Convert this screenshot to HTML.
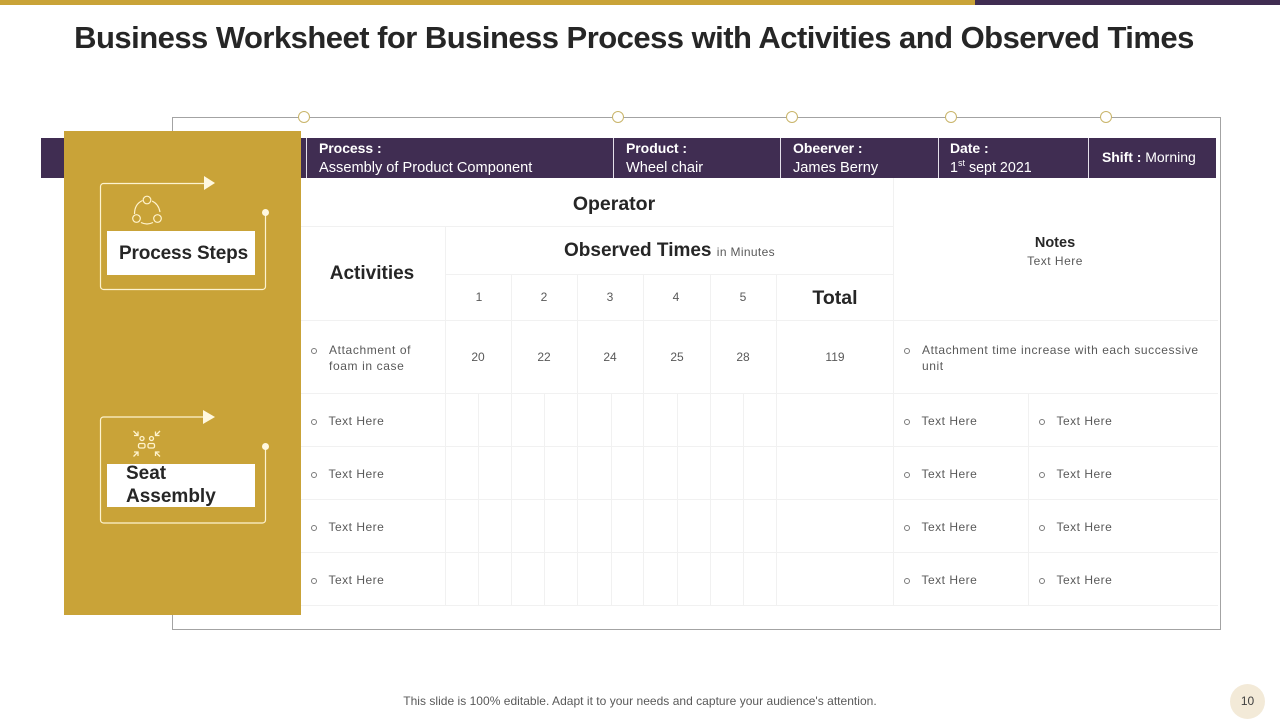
<!DOCTYPE html>
<html lang="en">
<head>
<meta charset="utf-8">
<title>Business Worksheet</title>
<style>
html,body{margin:0;padding:0;background:#fff}
#slide{position:relative;width:1280px;height:720px;overflow:hidden;background:#fff;font-family:"Liberation Sans",sans-serif;color:#262626}
#slide div,#slide svg{position:absolute}
.t{white-space:nowrap;line-height:16px}
.c{text-align:center}
.b{font-weight:bold}
.h{background:#f1f1f1;height:1px}
.v{background:#f1f1f1;width:1px}
.w{color:#fff;font-size:14.6px;line-height:18px}
.w b{font-size:14px;letter-spacing:-.05px}
.u{position:relative;top:-1px}
.d{background:#e4e0ea;width:1px;top:138px;height:40px}
.g{color:#595959;font-size:12px;letter-spacing:.5px}
.n{color:#595959;font-size:12px;width:60px;text-align:center}
.o{width:4px;height:4px;border:1px solid #7a7a7a;border-radius:50%}
.p{width:10px;height:10px;border:1px solid #c9b56a;border-radius:50%;background:#fff;top:111px}
sup{font-size:9px;line-height:0}
</style>
</head>
<body>
<div id="slide">
<div style="left:0;top:0;width:975px;height:5px;background:#c9a338"></div>
<div style="left:975px;top:0;width:305px;height:5px;background:#402d52"></div>
<div class="t b" style="left:0;width:1268px;text-align:center;top:18px;font-size:31px;line-height:40px;letter-spacing:-.53px">Business Worksheet for Business Process with Activities and Observed Times</div>

<div style="left:172px;top:117px;width:1047px;height:511px;border:1px solid #a3a3a3"></div>
<div class="p" style="left:298px"></div>
<div class="p" style="left:612px"></div>
<div class="p" style="left:786px"></div>
<div class="p" style="left:945px"></div>
<div class="p" style="left:1100px"></div>

<div style="left:301px;top:178px;width:917px;height:428px;background:#fff"></div>
<div style="left:41px;top:138px;width:1175px;height:40px;background:#402d52"></div>
<div class="d" style="left:306px"></div>
<div class="d" style="left:613px"></div>
<div class="d" style="left:780px"></div>
<div class="d" style="left:938px"></div>
<div class="d" style="left:1088px"></div>
<div class="t w" style="left:319px;top:140px"><b class="u">Process :</b><br>Assembly of Product Component</div>
<div class="t w" style="left:626px;top:140px"><b class="u">Product :</b><br>Wheel chair</div>
<div class="t w" style="left:793px;top:140px"><b class="u">Obeerver :</b><br>James Berny</div>
<div class="t w" style="left:950px;top:140px"><b class="u">Date :</b><br><span style="font-size:14.3px">1<sup>st</sup> sept 2021</span></div>
<div class="t w" style="left:1102px;top:148px;font-size:14px"><b>Shift :</b> Morning</div>

<!-- horizontal rules -->
<div class="h" style="left:301px;top:226px;width:592px"></div>
<div class="h" style="left:445px;top:274px;width:448px"></div>
<div class="h" style="left:301px;top:320px;width:917px"></div>
<div class="h" style="left:301px;top:393px;width:917px"></div>
<div class="h" style="left:301px;top:446px;width:917px"></div>
<div class="h" style="left:301px;top:499px;width:917px"></div>
<div class="h" style="left:301px;top:552px;width:917px"></div>
<div class="h" style="left:301px;top:605px;width:917px"></div>
<!-- vertical rules -->
<div class="v" style="left:445px;top:226px;height:379px"></div>
<div class="v" style="left:511px;top:274px;height:331px"></div>
<div class="v" style="left:577px;top:274px;height:331px"></div>
<div class="v" style="left:643px;top:274px;height:331px"></div>
<div class="v" style="left:710px;top:274px;height:331px"></div>
<div class="v" style="left:776px;top:274px;height:331px"></div>
<div class="v" style="left:893px;top:178px;height:427px"></div>
<div class="v" style="left:478px;top:393px;height:212px"></div>
<div class="v" style="left:544px;top:393px;height:212px"></div>
<div class="v" style="left:611px;top:393px;height:212px"></div>
<div class="v" style="left:677px;top:393px;height:212px"></div>
<div class="v" style="left:743px;top:393px;height:212px"></div>
<div class="v" style="left:1028px;top:393px;height:212px"></div>

<!-- table headings -->
<div class="t b c" style="left:514px;width:200px;top:196px;font-size:19.5px">Operator</div>
<div class="t b c" style="left:272px;width:200px;top:266px;font-size:19px">Activities</div>
<div class="t" style="left:564px;top:243px;font-size:19px"><b>Observed Times</b> <span style="font-size:12px;color:#595959;letter-spacing:.35px">in Minutes</span></div>
<div class="t b c" style="left:775px;width:120px;top:290px;font-size:19.5px">Total</div>
<div class="t c" style="left:955px;width:200px;top:235px;font-size:14.5px;font-weight:bold">Notes</div>
<div class="t c g" style="left:955px;width:200px;top:253px">Text Here</div>

<div class="t n" style="left:449px;top:289px">1</div>
<div class="t n" style="left:514px;top:289px">2</div>
<div class="t n" style="left:580px;top:289px">3</div>
<div class="t n" style="left:646px;top:289px">4</div>
<div class="t n" style="left:713px;top:289px">5</div>

<!-- first data row -->
<div class="o" style="left:311px;top:348px"></div>
<div class="t g" style="left:329px;top:342px;letter-spacing:.62px">Attachment of<br>foam in case</div>
<div class="t n" style="left:448px;top:349px">20</div>
<div class="t n" style="left:514px;top:349px">22</div>
<div class="t n" style="left:580px;top:349px">24</div>
<div class="t n" style="left:647px;top:349px">25</div>
<div class="t n" style="left:713px;top:349px">28</div>
<div class="t n" style="left:805px;top:349px">119</div>
<div class="o" style="left:904px;top:348px"></div>
<div class="t g" style="left:922px;top:342px;letter-spacing:.56px">Attachment time increase with each successive<br>unit</div>

<!-- rows 2-5 -->
<div class="o" style="left:311px;top:419px"></div>
<div class="t g" style="left:328.500px;top:413px">Text Here</div>
<div class="o" style="left:904px;top:419px"></div>
<div class="t g" style="left:921.500px;top:413px">Text Here</div>
<div class="o" style="left:1039px;top:419px"></div>
<div class="t g" style="left:1056.500px;top:413px">Text Here</div>

<div class="o" style="left:311px;top:472px"></div>
<div class="t g" style="left:328.500px;top:466px">Text Here</div>
<div class="o" style="left:904px;top:472px"></div>
<div class="t g" style="left:921.500px;top:466px">Text Here</div>
<div class="o" style="left:1039px;top:472px"></div>
<div class="t g" style="left:1056.500px;top:466px">Text Here</div>

<div class="o" style="left:311px;top:525px"></div>
<div class="t g" style="left:328.500px;top:519px">Text Here</div>
<div class="o" style="left:904px;top:525px"></div>
<div class="t g" style="left:921.500px;top:519px">Text Here</div>
<div class="o" style="left:1039px;top:525px"></div>
<div class="t g" style="left:1056.500px;top:519px">Text Here</div>

<div class="o" style="left:311px;top:578px"></div>
<div class="t g" style="left:328.500px;top:572px">Text Here</div>
<div class="o" style="left:904px;top:578px"></div>
<div class="t g" style="left:921.500px;top:572px">Text Here</div>
<div class="o" style="left:1039px;top:578px"></div>
<div class="t g" style="left:1056.500px;top:572px">Text Here</div>

<!-- gold panel -->
<div style="left:64px;top:131px;width:237px;height:484px;background:#c9a338"></div>

<svg style="left:0;top:0" width="1280" height="720" viewBox="0 0 1280 720" fill="none">
  <g stroke="#fdf3cf" stroke-width="1.2">
    <path d="M206 183.500H103.500a3 3 0 0 0-3 3V286.500a3 3 0 0 0 3 3H262.500a3 3 0 0 0 3-3V213"/>
  </g>
  <path d="M204 176L215 183L204 190Z" fill="#fff8e0"/>
  <circle cx="265.500" cy="212.500" r="3.500" fill="#fff8e0"/>
  <g stroke="#fff3cc" stroke-width="1.2">
    <circle cx="147" cy="200" r="3.800"/>
    <circle cx="136.500" cy="218.500" r="3.800"/>
    <circle cx="157.500" cy="218.500" r="3.800"/>
    <path d="M142.500 200.500C137 203 134.500 208 134.500 214"/>
    <path d="M152 201C156.500 203 159 206.500 160 212"/>
    <path d="M141 222.500C145 224.500 149 224.500 153 222.500"/>
  </g>
  <g stroke="#fdf3cf" stroke-width="1.2">
    <path d="M206 417H103.500a3 3 0 0 0-3 3V520a3 3 0 0 0 3 3H262.500a3 3 0 0 0 3-3V447"/>
  </g>
  <path d="M203 410L215 417L203 424Z" fill="#fff8e0"/>
  <circle cx="265.500" cy="446.500" r="3.500" fill="#fff8e0"/>
  <g stroke="#fff3cc" stroke-width="1.300">
    <circle cx="142" cy="438.500" r="2"/>
    <circle cx="151.500" cy="438.500" r="2"/>
    <rect x="138.500" y="443.500" width="6.500" height="4.500" rx="1.500"/>
    <rect x="148" y="443.500" width="6.500" height="4.500" rx="1.500"/>
    <path d="M133.500 431L138 435.500M138 431.500V435.500H134"/>
    <path d="M160 431L155.500 435.500M155.500 431.500V435.500H159.500"/>
    <path d="M133.500 456.500L138 452M134 452H138V456"/>
    <path d="M160 456.500L155.500 452M159.500 452H155.500V456"/>
  </g>
</svg>

<div style="left:107px;top:231px;width:148px;height:44px;background:#fff"></div>
<div class="t b" style="left:119px;top:243px;font-size:19px;line-height:22px;letter-spacing:-.15px">Process Steps</div>
<div style="left:107px;top:464px;width:148px;height:43px;background:#fff"></div>
<div class="t b" style="left:126px;top:462px;font-size:19px;line-height:23px">Seat<br>Assembly</div>

<!-- footer -->
<div class="t c" style="left:240px;width:800px;top:693px;font-size:12px;letter-spacing:.025px;color:#595959">This slide is 100% editable. Adapt it to your needs and capture your audience's attention.</div>
<div class="t c" style="left:1230px;top:684px;width:35px;height:35px;line-height:35px;border-radius:50%;background:#f3ead8;font-size:12px;color:#404040">10</div>
</div>
</body>
</html>
